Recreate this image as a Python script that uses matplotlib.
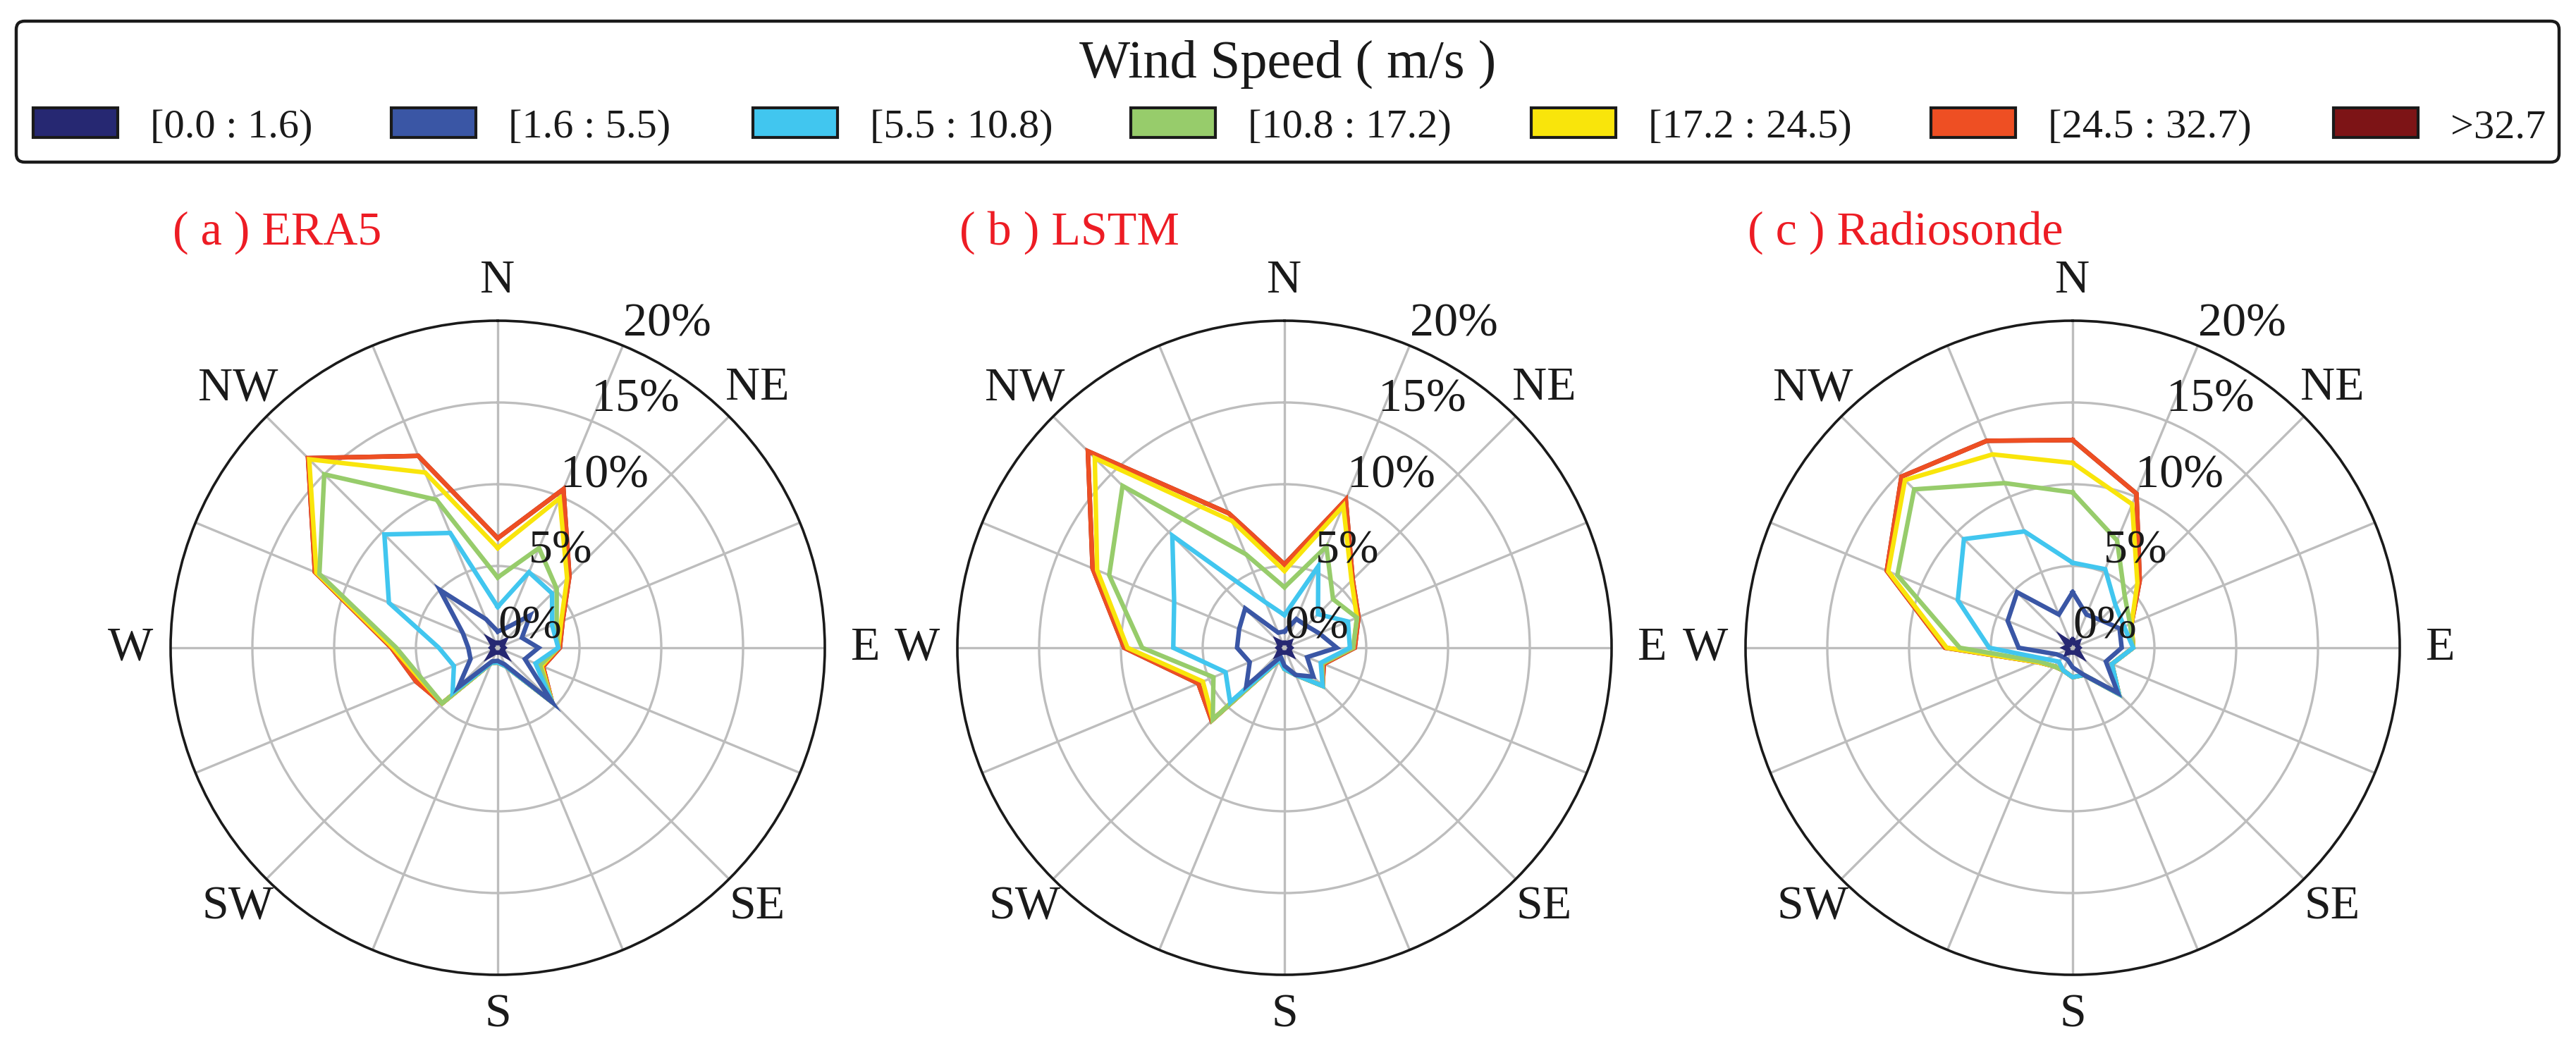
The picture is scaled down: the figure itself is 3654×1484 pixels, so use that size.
import numpy as np
import matplotlib
matplotlib.use("Agg")
import matplotlib.pyplot as plt
from matplotlib.patches import FancyBboxPatch, Rectangle
from matplotlib.transforms import offset_copy

plt.rcParams['font.family'] = ['Liberation Serif', 'DejaVu Serif']

# ---------------- data ----------------
directions = ['N', 'NNE', 'NE', 'ENE', 'E', 'ESE', 'SE', 'SSE',
              'S', 'SSW', 'SW', 'WSW', 'W', 'WNW', 'NW', 'NNW']
compass_labels = ['N', 'NE', 'E', 'SE', 'S', 'SW', 'W', 'NW']
speed_classes = ['[0.0 : 1.6)', '[1.6 : 5.5)', '[5.5 : 10.8)', '[10.8 : 17.2)',
                 '[17.2 : 24.5)', '[24.5 : 32.7)', '>32.7']
class_colors = ['#262872', '#3A56A5', '#41C6EF', '#97CC6B',
                '#F9E50B', '#EE4F23', '#7D1416']
panel_titles = ['( a ) ERA5', '( b ) LSTM', '( c ) Radiosonde']
radial_ticks = [0, 5, 10, 15, 20]

# cumulative frequency (%) per speed class, 16 directions (N clockwise)
era5_cum = [
    [0.3, 0.3, 0.6, 0.3, 0.4, 0.3, 0.7, 0.3, 0.3, 0.3, 0.7, 0.3, 0.4, 0.3, 0.7, 0.3],
    [1.0, 1.3, 2.8, 1.6, 2.5, 1.8, 4.7, 1.1, 0.8, 0.9, 3.4, 1.8, 1.8, 2.3, 5.0, 1.9],
    [2.5, 5.0, 4.7, 3.6, 3.7, 2.5, 4.7, 1.2, 0.9, 1.0, 3.9, 2.9, 3.6, 7.2, 9.8, 7.6],
    [4.3, 6.6, 5.1, 3.9, 3.7, 2.8, 4.7, 1.2, 0.9, 1.0, 4.8, 5.0, 6.2, 11.8, 15.0, 9.8],
    [6.1, 9.9, 6.0, 4.2, 3.7, 2.9, 4.7, 1.2, 0.9, 1.0, 4.8, 5.1, 6.4, 12.0, 16.3, 11.6],
    [6.7, 10.5, 6.2, 4.3, 3.8, 3.0, 4.7, 1.2, 0.9, 1.0, 4.8, 5.4, 6.5, 12.1, 16.4, 12.7],
    [6.7, 10.5, 6.2, 4.3, 3.8, 3.0, 4.7, 1.2, 0.9, 1.0, 4.8, 5.4, 6.5, 12.1, 16.4, 12.7],
]
lstm_cum = [
    [0.3, 0.3, 0.5, 0.3, 0.4, 0.3, 0.6, 0.3, 0.3, 0.3, 0.6, 0.3, 0.4, 0.3, 0.6, 0.3],
    [1.0, 1.9, 1.9, 2.3, 3.2, 1.5, 2.5, 1.8, 1.1, 0.6, 3.3, 2.3, 2.9, 3.0, 3.4, 1.0],
    [2.0, 5.4, 2.9, 4.2, 4.0, 2.4, 3.3, 1.8, 1.3, 0.8, 4.7, 3.9, 6.8, 7.3, 9.7, 3.0],
    [3.7, 6.7, 4.2, 4.8, 4.2, 2.5, 3.3, 1.8, 1.3, 0.8, 6.2, 4.7, 8.7, 11.6, 14.0, 6.2],
    [4.7, 9.4, 5.8, 4.8, 4.2, 2.5, 3.3, 1.8, 1.3, 0.8, 6.2, 5.4, 9.6, 12.4, 16.4, 8.4],
    [5.1, 9.8, 5.9, 4.9, 4.3, 2.6, 3.3, 1.8, 1.3, 0.8, 6.3, 5.7, 9.8, 12.7, 17.0, 8.9],
    [5.1, 9.8, 5.9, 4.9, 4.3, 2.6, 3.3, 1.8, 1.3, 0.8, 6.3, 5.7, 9.8, 12.7, 17.0, 8.9],
]
radiosonde_cum = [
    [0.5, 0.3, 0.5, 0.3, 0.4, 0.3, 0.7, 0.3, 0.3, 0.3, 0.5, 0.3, 0.5, 0.3, 0.8, 0.3],
    [3.4, 2.2, 2.4, 3.1, 3.0, 2.2, 3.9, 1.8, 1.2, 0.8, 0.8, 1.05, 3.3, 4.3, 4.8, 2.2],
    [5.2, 5.2, 3.7, 3.4, 3.7, 2.6, 4.0, 1.8, 1.8, 1.5, 1.2, 1.8, 5.1, 7.6, 9.4, 7.7],
    [9.5, 7.1, 4.5, 3.8, 3.7, 2.6, 4.0, 1.8, 1.8, 1.5, 1.6, 2.2, 6.9, 11.6, 13.7, 10.9],
    [11.3, 9.5, 5.6, 3.9, 3.7, 2.6, 4.0, 1.8, 1.8, 1.5, 1.6, 2.3, 7.7, 12.2, 14.5, 12.8],
    [12.7, 10.2, 5.8, 3.9, 3.7, 2.6, 4.0, 1.8, 1.8, 1.5, 1.6, 2.3, 7.8, 12.3, 14.8, 13.7],
    [12.7, 10.2, 5.8, 3.9, 3.7, 2.6, 4.0, 1.8, 1.8, 1.5, 1.6, 2.3, 7.8, 12.3, 14.8, 13.7],
]
panels = [era5_cum, lstm_cum, radiosonde_cum]

# ---------------- layout ----------------
W, H, DPI = 3654, 1484, 200
fig = plt.figure(figsize=(W / DPI, H / DPI), dpi=DPI)

bg = fig.add_axes([0, 0, 1, 1])
bg.set_xlim(0, W)
bg.set_ylim(H, 0)
bg.axis('off')

# legend box
bg.add_patch(FancyBboxPatch((23, 30), 3607, 200,
                            boxstyle='round,pad=0,rounding_size=12',
                            facecolor='white', edgecolor='#1a1a1a', lw=1.6))
bg.text(W / 2, 110, 'Wind Speed ( m/s )', ha='center', va='baseline',
        fontsize=27.5, color='#1a1a1a')
patch_x = [47, 555, 1068, 1604, 2172, 2739, 3310]
for px, lab, col in zip(patch_x, speed_classes, class_colors):
    bg.add_patch(Rectangle((px, 153), 120, 42, facecolor=col,
                           edgecolor='#1a1a1a', lw=1.5))
    bg.text(px + 166, 195, lab, ha='left', va='baseline', fontsize=21,
            color='#1a1a1a')

R = 464
cy = 919
centers_x = [706, 1822, 2940]
theta = np.deg2rad(np.arange(16) * 22.5)
theta_closed = np.append(theta, theta[0])

for cx, title, data in zip(centers_x, panel_titles, panels):
    ax = fig.add_axes([(cx - R) / W, 1 - (cy + R) / H, 2 * R / W, 2 * R / H],
                      projection='polar')
    ax.set_theta_zero_location('N')
    ax.set_theta_direction(-1)
    ax.set_ylim(0, 20)
    ax.set_yticks([5, 10, 15])
    ax.set_yticklabels([])
    ax.set_xticks(theta)
    ax.set_xticklabels([])
    ax.tick_params(length=0)
    ax.grid(True, color='#BDBDBD', lw=1.2)
    ax.set_axisbelow(True)
    ax.spines['polar'].set_color('#1a1a1a')
    ax.spines['polar'].set_linewidth(1.3)

    # draw highest class first so lower classes lie on top
    for k in range(len(speed_classes) - 1, -1, -1):
        vals = np.array(data[k])
        ax.plot(theta_closed, np.append(vals, vals[0]), color=class_colors[k],
                lw=2.3, solid_joinstyle='miter', zorder=3 + (6 - k) * 0.01)

    for i, lab in enumerate(compass_labels):
        ax.text(np.deg2rad(i * 45), 22.45, lab, ha='center', va='center',
                fontsize=24.5, color='#1a1a1a', clip_on=False)

    tr = offset_copy(ax.transData, fig=fig, x=0, y=13.5, units='dots')
    for r in radial_ticks:
        ax.text(np.deg2rad(22.5), r, f'{r}%', transform=tr, ha='left',
                va='baseline', fontsize=24.5, color='#1a1a1a', zorder=10,
                clip_on=False)

    bg.text(cx - 461, 347, title, ha='left', va='baseline', fontsize=24.5,
            color='#ED1C24')

fig.savefig('out.png', dpi=DPI, facecolor='white')
